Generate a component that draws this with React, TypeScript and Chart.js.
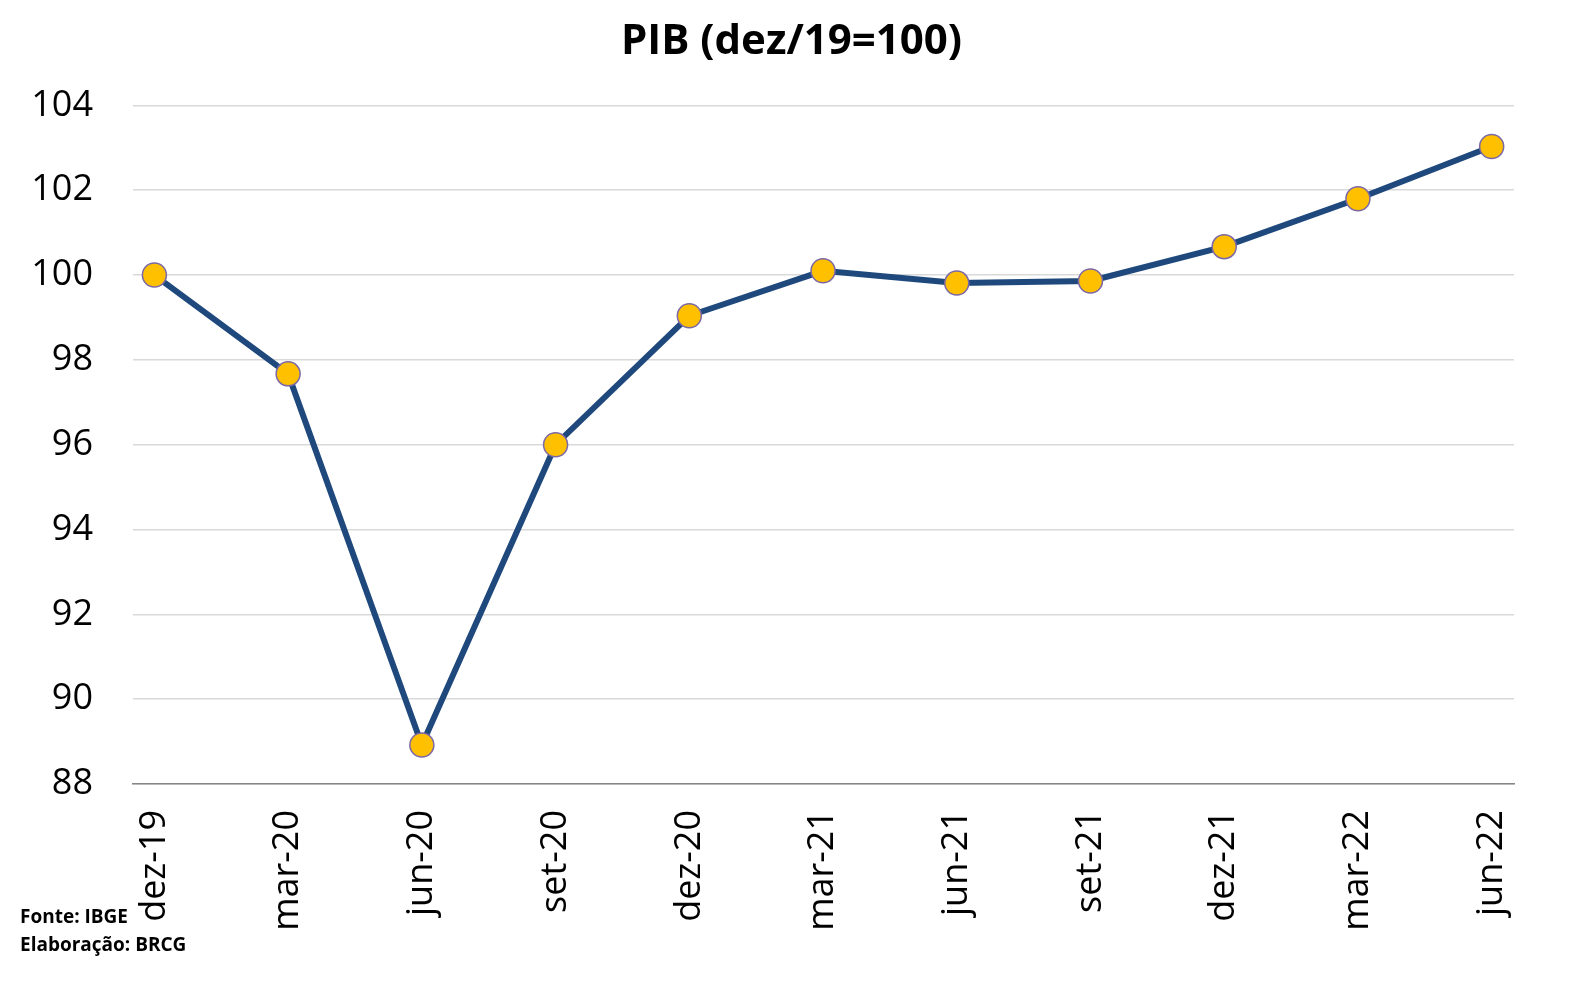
import { useEffect, useRef } from 'react';
import { Chart, registerables } from 'chart.js';

Chart.register(...registerables);

const categories = ['dez-19', 'mar-20', 'jun-20', 'set-20', 'dez-20', 'mar-21', 'jun-21', 'set-21', 'dez-21', 'mar-22', 'jun-22'];
const pib = [100.0, 97.67, 88.92, 96.0, 99.04, 100.1, 99.81, 99.86, 100.67, 101.8, 103.03];
const yTicks = [88, 90, 92, 94, 96, 98, 100, 102, 104];

const FONT = '"Open Sans", "Noto Sans", sans-serif';

export default function App() {
  const canvasRef = useRef<HTMLCanvasElement>(null);
  const chartRef = useRef<Chart | null>(null);

  useEffect(() => {
    if (!canvasRef.current) return;
    if (chartRef.current) chartRef.current.destroy();

    chartRef.current = new Chart(canvasRef.current, {
      type: 'line',
      data: {
        datasets: [{
          label: 'PIB',
          data: pib.map((v, i) => ({ x: i, y: v })),
          borderColor: '#1F497D',
          borderWidth: 6,
          tension: 0,
          pointRadius: 12,
          pointHoverRadius: 12,
          pointBackgroundColor: '#FFC000',
          pointBorderColor: '#7B68A6',
          pointBorderWidth: 1.5,
          clip: false,
        }]
      },
      options: {
        responsive: true,
        maintainAspectRatio: false,
        animation: false,
        layout: { padding: 0 },
        plugins: {
          legend: { display: false },
          tooltip: { enabled: false },
          title: {
            display: true,
            text: 'PIB (dez/19=100)',
            color: '#000000',
            font: { family: FONT, size: 42, weight: 'bold' },
            padding: { top: 17, bottom: 38 },
          },
        },
        scales: {
          x: {
            type: 'linear',
            min: -0.16,
            max: 10.167,
            z: 1,
            afterBuildTicks: (scale) => {
              scale.ticks = categories.map((_, i) => ({ value: i }));
            },
            afterFit: (scale) => {
              scale.height = 203;
            },
            grid: { display: false, drawTicks: false },
            border: { display: true, color: '#868686', width: 1.5 },
            ticks: {
              autoSkip: false,
              minRotation: 90,
              maxRotation: 90,
              padding: 26,
              color: '#000000',
              font: { family: FONT, size: 36 },
              callback: (value) => categories[Number(value)] ?? '',
            },
          },
          y: {
            min: yTicks[0],
            max: yTicks[yTicks.length - 1],
            afterBuildTicks: (scale) => {
              scale.ticks = yTicks.map((v) => ({ value: v }));
            },
            afterFit: (scale) => {
              scale.width = 133;
            },
            grid: { color: '#D9D9D9', lineWidth: 1.5, drawTicks: false },
            border: { display: false },
            ticks: {
              padding: 40,
              color: '#000000',
              font: { family: FONT, size: 36 },
            },
          },
          // empty right-hand axis, only to keep the right margin
          yRight: {
            position: 'right',
            min: yTicks[0],
            max: yTicks[yTicks.length - 1],
            afterFit: (scale) => {
              scale.width = 69;
            },
            grid: { display: false, drawTicks: false },
            border: { display: false },
            ticks: { display: false },
          },
        },
      },
    });

    return () => {
      if (chartRef.current) {
        chartRef.current.destroy();
        chartRef.current = null;
      }
    };
  }, []);

  return (
    <div style={{ position: 'fixed', left: 0, top: 0, width: 1583, height: 987, background: '#ffffff' }}>
      <canvas ref={canvasRef} />
      <div
        style={{
          position: 'absolute',
          left: 20,
          top: 902,
          fontFamily: FONT,
          fontWeight: 'bold',
          fontSize: 19,
          lineHeight: '28px',
          color: '#000000',
        }}
      >
        <div>Fonte: IBGE</div>
        <div>Elaboração: BRCG</div>
      </div>
    </div>
  );
}
